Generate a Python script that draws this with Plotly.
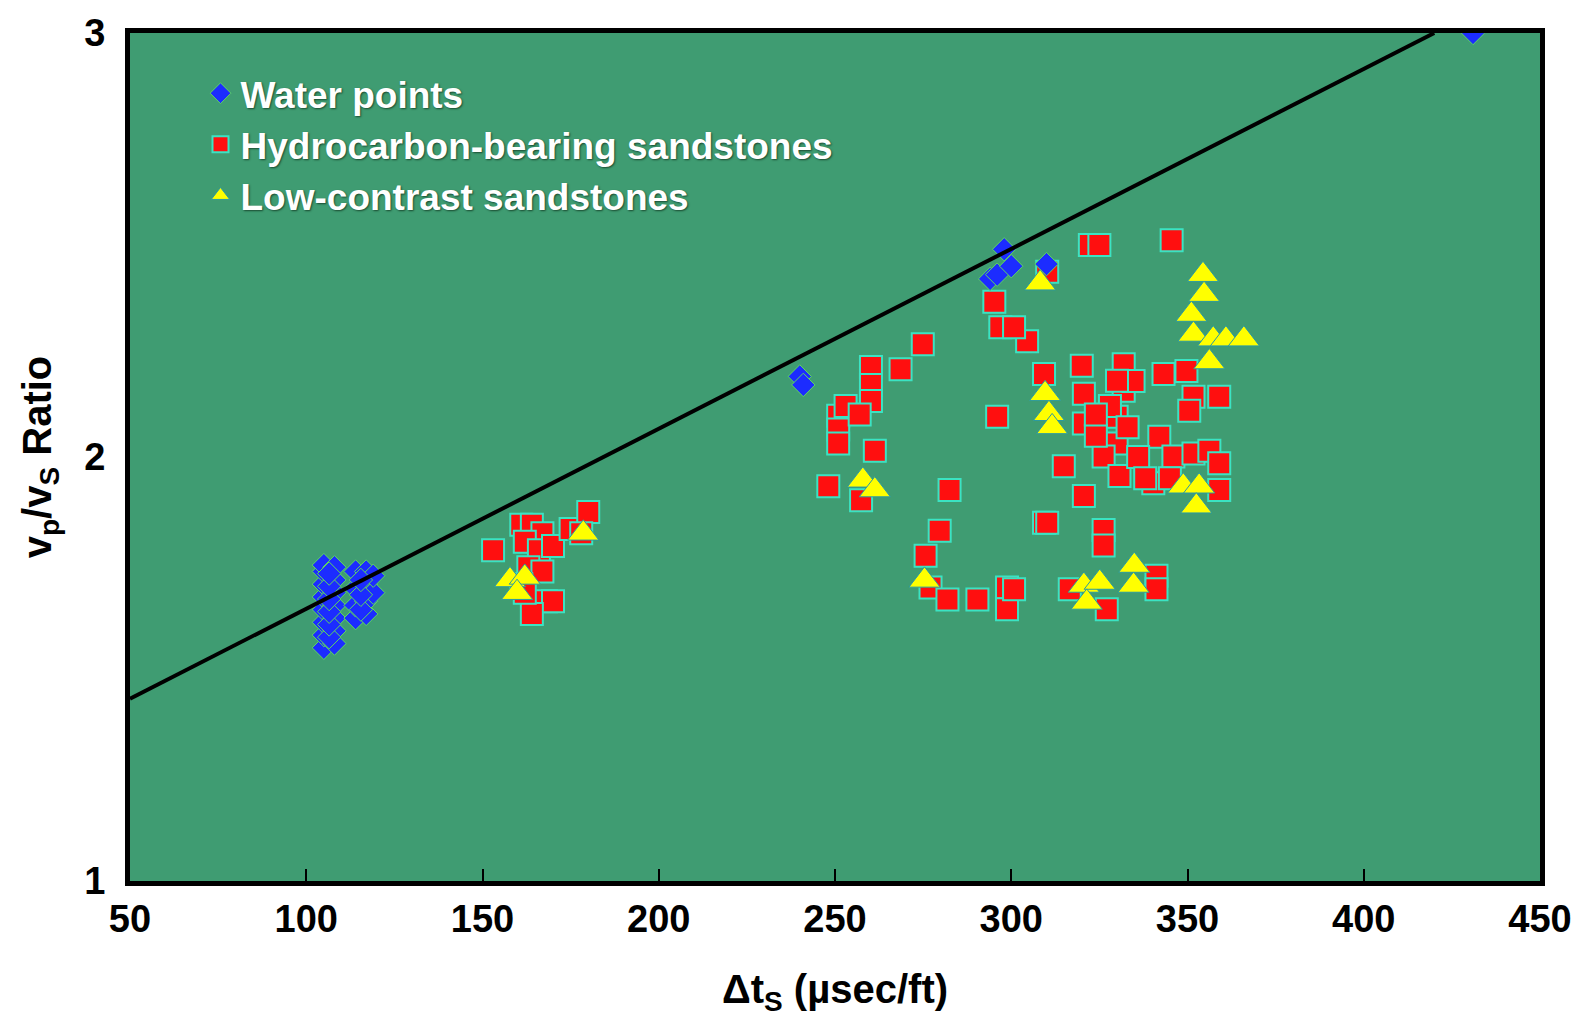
import plotly.graph_objects as go

# ---- data ----
water_x = [105, 105, 105, 105, 105, 105, 105, 105, 108, 108, 108, 108, 108, 108, 108,
           106.5, 106.5, 106.5, 106.5, 106.5, 106.5,
           114, 114, 114, 114, 117, 117, 117, 117, 119, 119, 115.5, 115.5, 115.5,
           240, 241, 294, 296, 298, 300, 310, 431]
water_y = [1.55, 1.58, 1.61, 1.64, 1.67, 1.70, 1.73, 1.745, 1.56, 1.59, 1.62, 1.65, 1.68, 1.71, 1.74,
           1.575, 1.605, 1.635, 1.665, 1.695, 1.725,
           1.62, 1.65, 1.69, 1.73, 1.63, 1.66, 1.70, 1.73, 1.68, 1.72, 1.64, 1.675, 1.71,
           2.19, 2.17, 2.42, 2.43, 2.49, 2.45, 2.455, 3.0]

hc_x = [153, 161, 164, 167, 162, 166, 170, 175, 180, 178, 163, 167, 161, 168, 170, 164, 162,
        274.9, 268.6, 260.2, 260.2, 260.2, 250.9, 250.9, 250.9, 261.3, 248.1, 257.4, 282.5,
        279.7, 275.7, 277.1, 281.9, 290.4, 298.8, 298.8, 295.2, 296.9, 304.5, 296.0, 309.3,
        310.2, 309.3,
        322.3, 345.5, 300.8, 320.0, 320.6, 320.6, 331.9, 331.9, 329.9, 329.9, 326.2, 330.7,
        334.7, 343.2, 349.7, 351.7, 350.5, 359.0, 342.0, 340.3, 346.0, 351.7, 356.2, 359.0,
        359.0, 314.9, 320.6, 310.2, 326.2, 326.2, 300.8, 316.6, 327.1, 341.2, 341.2,
        328, 333, 324, 336, 338, 345, 253, 257, 325, 330, 324]
hc_y = [1.78, 1.84, 1.84, 1.82, 1.80, 1.78, 1.79, 1.83, 1.87, 1.82, 1.74, 1.73, 1.70, 1.66, 1.66, 1.63, 1.68,
        2.266, 2.207, 2.212, 2.17, 2.132, 2.097, 2.065, 2.032, 2.015, 1.931, 1.898, 1.922,
        1.826, 1.767, 1.692, 1.664, 1.664, 1.692, 1.641, 2.366, 2.306, 2.273, 2.095, 2.196,
        2.437, 1.845,
        2.500, 2.511, 2.306, 2.215, 2.149, 2.079, 2.219, 2.156, 2.095, 2.032, 2.001, 1.955,
        2.179, 2.196, 2.203, 2.142, 2.109, 2.142, 2.048, 1.938, 2.001, 2.008, 2.015, 1.985,
        1.922, 1.978, 1.908, 1.845, 1.828, 1.791, 1.688, 1.688, 1.641, 1.720, 1.688,
        2.12, 2.07, 2.05, 2.00, 1.95, 1.95, 2.12, 2.10, 2.50, 2.18, 2.10]

lc_x = [157.8, 162.0, 159.8, 178.6,
        257.9, 261.3, 275.4, 308.2,
        354.4, 354.7, 351.1, 351.7, 357.3, 360.9, 366.0, 356.2,
        309.6, 310.7, 311.6, 348.8, 353.3, 352.5,
        320.6, 325.1, 321.4, 334.9, 334.7]
lc_y = [1.71, 1.716, 1.68, 1.82,
        1.945, 1.922, 1.709, 2.41,
        2.430, 2.383, 2.336, 2.289, 2.278, 2.278, 2.278, 2.224,
        2.149, 2.102, 2.071, 1.931, 1.931, 1.884,
        1.697, 1.704, 1.657, 1.744, 1.697]

trend_x = [50, 420]
trend_y = [1.43, 3.0]

x_ticks = [50, 100, 150, 200, 250, 300, 350, 400, 450]
y_ticks = [1, 2, 3]

FONT = "Liberation Sans, Arial, sans-serif"

fig = go.Figure()

fig.add_trace(go.Scatter(
    x=hc_x, y=hc_y, mode="markers", name="Hydrocarbon-bearing sandstones",
    legendrank=2,
    marker=dict(symbol="square", size=22, color="#ff0f0f",
                line=dict(color="#3be3c3", width=2)),
))
fig.add_trace(go.Scatter(
    x=lc_x, y=lc_y, mode="markers", name="Low-contrast sandstones",
    legendrank=3,
    marker=dict(symbol="triangle-up", size=27, color="#ffff00",
                line=dict(color="#2a9aa0", width=1)),
))
fig.add_trace(go.Scatter(
    x=water_x, y=water_y, mode="markers", name="Water points",
    legendrank=1,
    marker=dict(symbol="diamond", size=18, color="#1c2cff",
                line=dict(color="#5fd85f", width=1)),
))
fig.add_trace(go.Scatter(
    x=trend_x, y=trend_y, mode="lines", showlegend=False,
    line=dict(color="black", width=4),
))

fig.update_layout(
    width=1584, height=1026,
    margin=dict(l=130, r=34, t=22, b=145),
    paper_bgcolor="white",
    plot_bgcolor="#3f9c72",
    font=dict(family=FONT, color="black", size=36, weight="bold"),
    legend=dict(
        x=0.05, y=0.965, xanchor="left", yanchor="top",
        bgcolor="rgba(0,0,0,0)",
        font=dict(family=FONT, size=37, color="white", weight="bold",
                  shadow="1px 1px 2px #1a4a30"),
        itemsizing="trace",
        tracegroupgap=0,
    ),
    showlegend=True,
)
fig.update_xaxes(
    range=[50, 450], tickvals=x_ticks, ticktext=[str(v) for v in x_ticks],
    showgrid=False, zeroline=False,
    showline=True, mirror=True, linecolor="black", linewidth=5,
    ticks="inside", ticklen=12, tickwidth=2, tickcolor="black",
    tickfont=dict(family=FONT, size=38, color="black", weight="bold"),
    title=dict(text="\u0394t<sub>S</sub> (\u00b5sec/ft)", standoff=38,
               font=dict(family=FONT, size=40, color="black", weight="bold")),
)
fig.update_yaxes(
    range=[1, 3], tickvals=y_ticks, ticktext=[str(v) for v in y_ticks],
    showgrid=False, zeroline=False,
    showline=True, mirror=True, linecolor="black", linewidth=5,
    ticks="", ticklabelstandoff=12,
    tickfont=dict(family=FONT, size=38, color="black", weight="bold"),
    title=dict(text="v<sub>p</sub>/v<sub>S</sub> Ratio", standoff=22,
               font=dict(family=FONT, size=40, color="black", weight="bold")),
)

fig.write_html("out.html")
